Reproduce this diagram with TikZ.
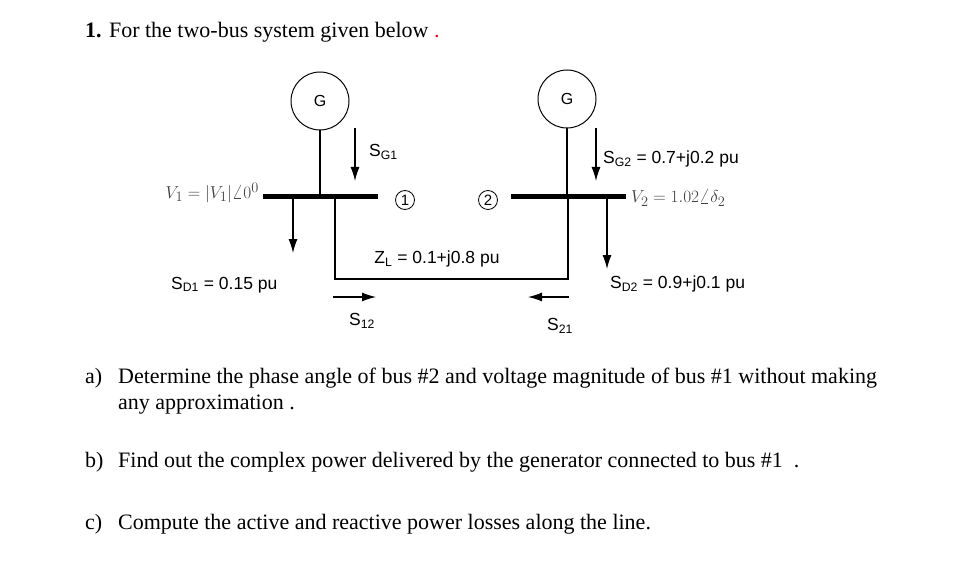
\documentclass[tikz,border=0pt]{standalone}
\usepackage{fontspec}
\setmainfont{Liberation Serif}
\newfontfamily\sansf{Liberation Sans}
\usetikzlibrary{arrows.meta}
\begin{document}
\begin{tikzpicture}[x=1pt,y=-1pt,
  txt/.style={inner sep=0pt,anchor=base west,font=\fontsize{22}{26}\selectfont},
  lab/.style={inner sep=0pt,font=\sansf\fontsize{17.5}{20}\selectfont},
  gen/.style={circle,draw,line width=1pt,minimum size=58pt,inner sep=0pt,font=\sansf\fontsize{16}{18}\selectfont},
  bus/.style={line width=5pt},
  wire/.style={line width=1.2pt},
  arr/.style={line width=1.2pt,-{Latex[length=14pt,width=9pt]}},
  vlab/.style={inner sep=0pt,text=black!75,font=\fontsize{19}{20}\selectfont},
  num/.style={circle,draw,line width=0.8pt,minimum size=19pt,inner sep=0pt,font=\sansf\fontsize{15}{16}\selectfont}]
\useasboundingbox (0,0) rectangle (965,561);
\node[txt] (title) at (85,38) {\textbf{1.} For the two-bus system given below \textcolor{red}{.}};
\node[gen] (g1) at (320,101) {G};
\node[gen] (g2) at (567,99) {G};
\coordinate (b1l) at (263,197); \coordinate (b1r) at (378,197);
\coordinate (b2l) at (511,197); \coordinate (b2r) at (626,197);
\draw[bus] (b1l) -- (b1r);
\draw[bus] (b2l) -- (b2r);
\coordinate (g1b) at (320,197); \coordinate (g2b) at (567,197);
\draw[wire] (g1) -- (g1b);
\draw[wire] (g2) -- (g2b);
\coordinate (l1a) at (335,197); \coordinate (l2a) at (568,197);
\draw[wire] (l1a) -- (335,279) -- (568,279) -- (l2a);
\coordinate (sg1a) at (355,128); \coordinate (sg1b) at (355,181);
\draw[arr] (sg1a) -- (sg1b);
\coordinate (sg2a) at (596,128); \coordinate (sg2b) at (596,181);
\draw[arr] (sg2a) -- (sg2b);
\coordinate (d1a) at (293,197); \coordinate (d1b) at (293,253);
\draw[arr] (d1a) -- (d1b);
\coordinate (d2a) at (607,197); \coordinate (d2b) at (607,269);
\draw[arr] (d2a) -- (d2b);
\coordinate (s12a) at (333,297); \coordinate (s12b) at (376,297);
\draw[arr] (s12a) -- (s12b);
\coordinate (s21a) at (569,297); \coordinate (s21b) at (528,297);
\draw[arr] (s21a) -- (s21b);
\node[num] (n1) at (405,200) {1};
\node[num] (n2) at (488,200) {2};
\node[lab,anchor=west] (sg1) at (369,152) {S\textsubscript{G1}};
\node[lab,anchor=west] (sg2) at (603,159) {S\textsubscript{G2} = 0.7+j0.2 pu};
\node[lab,anchor=west] (sd1) at (171,285) {S\textsubscript{D1} = 0.15 pu};
\node[lab,anchor=west] (sd2) at (610,284) {S\textsubscript{D2} = 0.9+j0.1 pu};
\node[lab] (zl) at (437,259) {Z\textsubscript{L} = 0.1+j0.8 pu};
\node[lab] (s12) at (362,321) {S\textsubscript{12}};
\node[lab] (s21) at (560,326) {S\textsubscript{21}};
\node[vlab,anchor=east] (v1) at (259,193) {$V_{1}=|V_{1}|\angle 0^{0}$};
\node[vlab,anchor=west] (v2) at (631,198) {$V_{2}=1.02\angle\delta_{2}$};
\node[txt] (a1) at (85,383) {a)};
\node[txt] (a2) at (118,383) {Determine the phase angle of bus \#2 and voltage magnitude of bus \#1 without making};
\node[txt] (a3) at (118,409) {any approximation .};
\node[txt] (b1) at (85,467) {b)};
\node[txt] (b2) at (118,467) {Find out the complex power delivered by the generator connected to bus \#1\ \ .};
\node[txt] (c1) at (85,529) {c)};
\node[txt] (c2) at (118,529) {Compute the active and reactive power losses along the line.};
\end{tikzpicture}
\end{document}
